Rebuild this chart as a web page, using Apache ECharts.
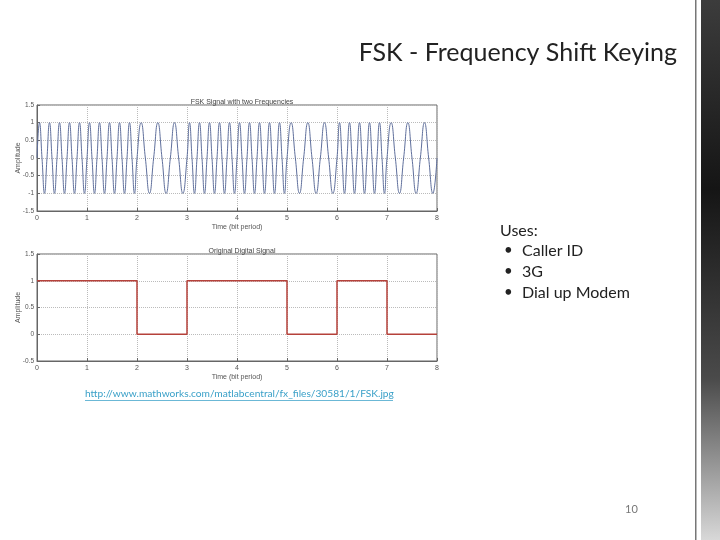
<!DOCTYPE html>
<html>
<head>
<meta charset="utf-8">
<script src="https://cdn.jsdelivr.net/npm/echarts@6/dist/echarts.min.js"></script>
<style>
html,body{margin:0;padding:0;background:#fff;}
#c{width:720px;height:540px;}
</style>
</head>
<body>
<div id="c"></div>
<script>
// ---- data ----
// FSK signal sampled at quarter periods (bit 1 -> 5 cycles/bit, bit 0 -> 3 cycles/bit)
var fskTime = [
  0,0.05,0.1,0.15,0.2,0.25,0.3,0.35,0.4,0.45,0.5,0.55,0.6,0.65,0.7,0.75,0.8,0.85,0.9,0.95,
  1,1.05,1.1,1.15,1.2,1.25,1.3,1.35,1.4,1.45,1.5,1.55,1.6,1.65,1.7,1.75,1.8,1.85,1.9,1.95,
  2,2.083,2.167,2.25,2.333,2.417,2.5,2.583,2.667,2.75,2.833,2.917,
  3,3.05,3.1,3.15,3.2,3.25,3.3,3.35,3.4,3.45,3.5,3.55,3.6,3.65,3.7,3.75,3.8,3.85,3.9,3.95,
  4,4.05,4.1,4.15,4.2,4.25,4.3,4.35,4.4,4.45,4.5,4.55,4.6,4.65,4.7,4.75,4.8,4.85,4.9,4.95,
  5,5.083,5.167,5.25,5.333,5.417,5.5,5.583,5.667,5.75,5.833,5.917,
  6,6.05,6.1,6.15,6.2,6.25,6.3,6.35,6.4,6.45,6.5,6.55,6.6,6.65,6.7,6.75,6.8,6.85,6.9,6.95,
  7,7.083,7.167,7.25,7.333,7.417,7.5,7.583,7.667,7.75,7.833,7.917,
  8
];
var fskAmp = [
  0,1,0,-1,0,1,0,-1,0,1,0,-1,0,1,0,-1,0,1,0,-1,
  0,1,0,-1,0,1,0,-1,0,1,0,-1,0,1,0,-1,0,1,0,-1,
  0,1,0,-1,0,1,0,-1,0,1,0,-1,
  0,1,0,-1,0,1,0,-1,0,1,0,-1,0,1,0,-1,0,1,0,-1,
  0,1,0,-1,0,1,0,-1,0,1,0,-1,0,1,0,-1,0,1,0,-1,
  0,1,0,-1,0,1,0,-1,0,1,0,-1,
  0,1,0,-1,0,1,0,-1,0,1,0,-1,0,1,0,-1,0,1,0,-1,
  0,1,0,-1,0,1,0,-1,0,1,0,-1,
  0
];
var bitTime = [0,1,2,3,4,5,6,7,8];
var bitValue = [1,1,0,1,1,0,1,0,0];
var topTitle = 'FSK Signal with two Frequencies';
var bottomTitle = 'Original Digital Signal';
var xName = 'Time (bit period)';
var yName = 'Amplitude';

var fskData = fskTime.map(function(t,i){return [t, fskAmp[i]];});
var bitData = bitTime.map(function(t,i){return [t, bitValue[i]];});

var chart = echarts.init(document.getElementById('c'));
var tickLab = {color:'#555', fontSize:7, fontFamily:'Liberation Sans', margin:4};
function xAx(gi){
  return {type:'value', gridIndex:gi, min:0, max:8, interval:1,
    name:xName, nameLocation:'middle', nameGap:13, nameMoveOverlap:false,
    nameTextStyle:{color:'#555', fontSize:7, fontFamily:'Liberation Sans'},
    axisLine:{show:true, onZero:false, lineStyle:{color:'#666', width:1}},
    axisTick:{show:true, inside:true, length:3, lineStyle:{color:'#666'}},
    axisLabel:tickLab,
    splitLine:{show:true, lineStyle:{color:'#bbb', type:'dotted', width:1}}};
}
function yAx(gi, mn, mx){
  return {type:'value', gridIndex:gi, min:mn, max:mx, interval:0.5,
    name:yName, nameLocation:'middle', nameGap:15, nameRotate:90, nameMoveOverlap:false,
    nameTextStyle:{color:'#555', fontSize:7, fontFamily:'Liberation Sans'},
    axisLine:{show:true, onZero:false, lineStyle:{color:'#666', width:1}},
    axisTick:{show:true, inside:true, length:3, lineStyle:{color:'#666'}},
    axisLabel:{color:'#555', fontSize:6.5, fontFamily:'Liberation Sans', margin:3},
    splitLine:{show:true, lineStyle:{color:'#bbb', type:'dotted', width:1}}};
}
chart.setOption({
  backgroundColor:'#ffffff',
  animation:false,
  title:[
    {text:topTitle, left:237, top:94, textAlign:'center',
     textStyle:{fontSize:7, fontWeight:'normal', color:'#444', fontFamily:'Liberation Sans'}},
    {text:bottomTitle, left:237, top:243, textAlign:'center',
     textStyle:{fontSize:7, fontWeight:'normal', color:'#444', fontFamily:'Liberation Sans'}}
  ],
  grid:[
    {left:37, top:105, width:400, height:106, show:true, borderColor:'#666', borderWidth:1, backgroundColor:'#fff'},
    {left:37, top:254, width:400, height:107, show:true, borderColor:'#666', borderWidth:1, backgroundColor:'#fff'}
  ],
  xAxis:[xAx(0), xAx(1)],
  yAxis:[yAx(0,-1.5,1.5), yAx(1,-0.5,1.5)],
  series:[
    {type:'line', xAxisIndex:0, yAxisIndex:0, data:fskData, smooth:true, showSymbol:false,
     lineStyle:{color:'#5f6f9c', width:1}},
    {type:'line', xAxisIndex:1, yAxisIndex:1, data:bitData, step:'end', showSymbol:false,
     lineStyle:{color:'#b5413a', width:1.5}}
  ],
  graphic:[
    {type:'text', right:43, top:40, style:{text:'FSK - Frequency Shift Keying', font:'25px Lato', fill:'#222'}},
    {type:'text', left:500, top:223, style:{text:'Uses:', font:'16px Lato', fill:'#222'}},
    {type:'text', left:504, top:243, style:{text:'•', font:'15px Lato', fill:'#222'}},
    {type:'text', left:522, top:243, style:{text:'Caller ID', font:'16px Lato', fill:'#222'}},
    {type:'text', left:504, top:264, style:{text:'•', font:'15px Lato', fill:'#222'}},
    {type:'text', left:522, top:264, style:{text:'3G', font:'16px Lato', fill:'#222'}},
    {type:'text', left:504, top:285, style:{text:'•', font:'15px Lato', fill:'#222'}},
    {type:'text', left:522, top:285, style:{text:'Dial up Modem', font:'16px Lato', fill:'#222'}},
    {type:'text', left:85, top:389, style:{text:'http://www.mathworks.com/matlabcentral/fx_files/30581/1/FSK.jpg', font:'10.2px Lato', fill:'#3aa0c8'}},
    {type:'rect', shape:{x:85, y:400, width:308, height:0.8}, style:{fill:'#3aa0c8'}},
    {type:'text', left:625, top:504, style:{text:'10', font:'11px Lato', fill:'#777'}},
    {type:'rect', shape:{x:695, y:0, width:1.5, height:540}, style:{fill:'#777'}},
    {type:'rect', shape:{x:701, y:0, width:19, height:540},
     style:{fill:new echarts.graphic.LinearGradient(0,0,0,1,[
       {offset:0, color:'#3c3c3c'},{offset:0.35, color:'#151515'},
       {offset:0.7, color:'#4a4a4a'},{offset:1, color:'#d8d8d8'}])}}
  ]
});
</script>
</body>
</html>
